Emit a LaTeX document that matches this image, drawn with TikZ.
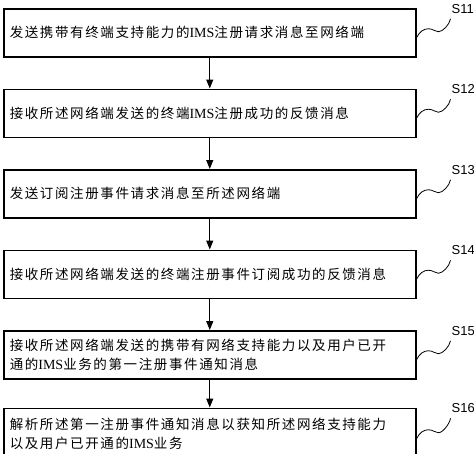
\documentclass[tikz,border=0pt]{standalone}
\usepackage{fontspec}
\setmainfont{Noto Sans CJK SC}[LetterSpace=12]
\newfontfamily\lat{Liberation Serif}
\newfontfamily\lab{Liberation Sans}
\usetikzlibrary{positioning,arrows.meta}

\tikzset{
	stepbox/.style = {draw, line width = 1.5pt, minimum height = 48pt,
			text width = 400pt, inner xsep = 6pt, align = left,
			font = \fontsize{13.5pt}{19pt}\selectfont},
	flow/.style = {line width = 1.2pt, -{Triangle[length = 9pt, width = 7pt]}},
	wave/.style = {line width = 0.8pt},
	steplabel/.style = {inner sep = 0pt, font = \lab\fontsize{13pt}{14pt}\selectfont}
}
\newcommand{\ims}{{\lat\fontsize{14pt}{19pt}\selectfont IMS}}

\begin{document}
\begin{tikzpicture}[x = 1pt, y = 1pt, node distance = 31pt]
			      \useasboundingbox (0,0) rectangle (474,-453);

			      \node [stepbox, anchor = north west] (b1) at (3,-8)
				      {发送携带有终端支持能力的\ims 注册请求消息至网络端};
			      \node [stepbox, below = of b1] (b2)
				      {接收所述网络端发送的终端\ims 注册成功的反馈消息};
			      \node [stepbox, below = of b2] (b3)
				      {发送订阅注册事件请求消息至所述网络端};
			      \node [stepbox, below = of b3] (b4)
				      {接收所述网络端发送的终端注册事件订阅成功的反馈消息};
			      \node [stepbox, below = of b4] (b5)
				      {接收所述网络端发送的携带有网络支持能力以及用户已开\\通的\ims 业务的第一注册事件通知消息};
			      \node [stepbox, below = 28pt of b5, minimum height = 51pt] (b6)
				      {解析所述第一注册事件通知消息以获知所述网络支持能力\\以及用户已开通的\ims 业务};

			      % arrows between the steps
			      \foreach \i [count = \j from 2] in {1,...,5}{
					      \draw [flow] (b\i) -- (b\j);
				      }

			      % step numbers with their wavy leaders
			      \foreach \i in {1,...,6}{
					      \node [steplabel, anchor = west] (l\i) at ([xshift = 35pt, yshift = -1pt]b\i.north east) {S1\i};
					      \draw [wave] ([yshift = -5pt]b\i.east) .. controls +(3,6) and +(-5,0) .. ++(12,9)
						      .. controls +(5,0) and +(-4,0) .. ++(10,-3)
						      .. controls +(4,0) and +(-1,-6) .. ([shift = {(-1pt,-5pt)}]l\i.south west);
				      }

		      \end{tikzpicture}
\end{document}
